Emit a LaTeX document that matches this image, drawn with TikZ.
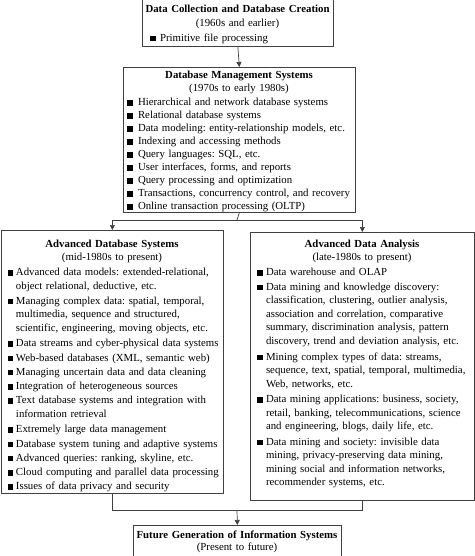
\documentclass[tikz,border=0pt]{standalone}
\usepackage{fontspec}
\setmainfont{Liberation Serif}
\usetikzlibrary{arrows.meta,positioning}
\frenchspacing

\newlength{\entrygap}
\newcommand{\sqmark}{\rule{5.5pt}{5.5pt}}
\newcommand{\boxhead}[2]{{\centering\textbf{#1}\par #2\par}\vskip1.5pt}
\newcommand{\entry}[2][10pt]{\par\noindent\makebox[#1][l]{\sqmark}%
  \begin{tabular}[t]{@{}l@{}}#2\end{tabular}\par\vskip\entrygap}

\begin{document}
\begin{tikzpicture}[x=1pt,y=-1pt,
  frame/.style={draw=black!75,line width=.7pt,inner sep=0pt,anchor=north west},
  boxtext/.style={align=left,inner sep=0pt,anchor=north,
    font=\fontsize{10.8}{#1}\selectfont},
  boxtext/.default=13.5,
  link/.style={draw=black!75,line width=.7pt},
  >={Triangle[length=5pt,width=5pt]}]
  \useasboundingbox (0,0) rectangle (474,556);

  % frames
  \node[frame,minimum width=191pt,minimum height=52pt] (collect) at (142,-6) {};
  \node[frame,minimum width=232pt,minimum height=145pt] (dbms) at (123,67) {};
  \node[frame,minimum width=222pt,minimum height=263pt] (ads) at (1,230) {};
  \node[frame,minimum width=224pt,minimum height=268pt] (ada) at (250,232) {};
  \node[frame,minimum width=208pt,minimum height=40pt] (future) at (133,525) {};

  % texts
  \node[boxtext,text width=187pt] (collecttxt) at (237.5,5) {%
    \boxhead{Data Collection and Database Creation}{(1960s and earlier)}
    {\leftskip=6pt \entry{Primitive file processing}}};
  \node[boxtext=13,text width=224pt] (dbmstxt) at (239,70.5) {%
    \boxhead{Database Management Systems}{(1970s to early 1980s)}
    \entry[11pt]{Hierarchical and network database systems}
    \entry[11pt]{Relational database systems}
    \entry[11pt]{Data modeling: entity-relationship models, etc.}
    \entry[11pt]{Indexing and accessing methods}
    \entry[11pt]{Query languages: SQL, etc.}
    \entry[11pt]{User interfaces, forms, and reports}
    \entry[11pt]{Query processing and optimization}
    \entry[11pt]{Transactions, concurrency control, and recovery}
    \entry[11pt]{Online transaction processing (OLTP)}};
  \node[boxtext,text width=208pt] (adstxt) at (112,239.5) {%
    \setlength{\entrygap}{0.8pt}%
    \boxhead{Advanced Database Systems}{(mid-1980s to present)}
    \entry[8pt]{Advanced data models: extended-relational,\\ object relational, deductive, etc.}
    \entry[8pt]{Managing complex data: spatial, temporal,\\ multimedia, sequence and structured,\\ scientific, engineering, moving objects, etc.}
    \entry[8pt]{Data streams and cyber-physical data systems}
    \entry[8pt]{Web-based databases (XML, semantic web)}
    \entry[8pt]{Managing uncertain data and data cleaning}
    \entry[8pt]{Integration of heterogeneous sources}
    \entry[8pt]{Text database systems and integration with\\ information retrieval}
    \entry[8pt]{Extremely large data management}
    \entry[8pt]{Database system tuning and adaptive systems}
    \entry[8pt]{Advanced queries: ranking, skyline, etc.}
    \entry[8pt]{Cloud computing and parallel data processing}
    \entry[8pt]{Issues of data privacy and security}};
  \node[boxtext,text width=210pt] (adatxt) at (362,239.5) {%
    \setlength{\entrygap}{1.2pt}%
    \boxhead{Advanced Data Analysis}{(late-1980s to present)}
    \entry[9pt]{Data warehouse and OLAP}
    \entry[9pt]{Data mining and knowledge discovery:\\ classification, clustering, outlier analysis,\\ association and correlation, comparative\\ summary, discrimination analysis, pattern\\ discovery, trend and deviation analysis, etc.}
    \entry[9pt]{Mining complex types of data: streams,\\ sequence, text, spatial, temporal, multimedia,\\ Web, networks, etc.}
    \entry[9pt]{Data mining applications: business, society,\\ retail, banking, telecommunications, science\\ and engineering, blogs, daily life, etc.}
    \entry[9pt]{Data mining and society: invisible data\\ mining, privacy-preserving data mining,\\ mining social and information networks,\\ recommender systems, etc.}};
  \node[boxtext=12,text width=206pt] (futuretxt) at (237,530.5) {%
    \boxhead{Future Generation of Information Systems}{(Present to future)}};

  % connectors
  \coordinate (split) at (237,220);
  \coordinate (merge) at (237,510);
  \draw[link,->] (collect.south) -- (dbms.north);
  \draw[link] (dbms.south) -- (split);
  \draw[link,->] (split) -| (ads.north);
  \draw[link,->] (split) -| (ada.north);
  \draw[link] (ads.south) |- (merge);
  \draw[link] (ada.south) |- (merge);
  \draw[link,->] (merge) -- (future.north);
\end{tikzpicture}
\end{document}
